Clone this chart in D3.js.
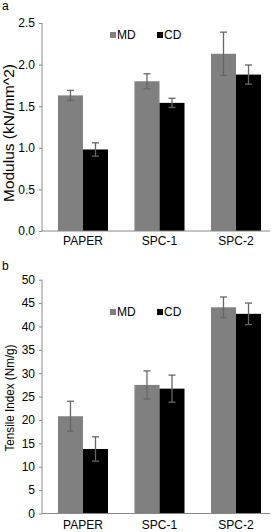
<!DOCTYPE html>
<html lang="en">
<head>
  <meta charset="UTF-8">
  <title>Modulus and Tensile Index</title>
  <script src="https://d3js.org/d3.v7.min.js"></script>
  <style>
    body { margin: 0; background: #fff; }
    svg { display: block; font-family: Arial, "Liberation Sans", sans-serif; }
  </style>
</head>
<body>
  <div id="chart"></div>
  <script>
    const categories = ["PAPER", "SPC-1", "SPC-2"];
    const series = ["MD", "CD"];

    // panel a: modulus (kN/mm^2)
    const modulusMD = [1.63, 1.80, 2.13];
    const modulusCD = [0.98, 1.54, 1.88];
    const modulusErrMD = [0.06, 0.09, 0.26];
    const modulusErrCD = [0.08, 0.055, 0.115];
    const modulusTicks = [0, 0.5, 1.0, 1.5, 2.0, 2.5];

    // panel b: tensile index (Nm/g)
    const tensileMD = [20.8, 27.5, 44.1];
    const tensileCD = [13.8, 26.7, 42.7];
    const tensileErrMD = [3.2, 3.0, 2.2];
    const tensileErrCD = [2.6, 2.9, 2.3];
    const tensileTicks = [0, 5, 10, 15, 20, 25, 30, 35, 40, 45, 50];

    const colors = { MD: "#808080", CD: "#000000" };
    const axisColor = "#888";
    const errColor = "#666";

    const width = 275, height = 532;
    const svg = d3.select("#chart").append("svg")
      .attr("width", width)
      .attr("height", height);

    function drawPanel(opt) {
      const g = svg.append("g");
      const x0 = d3.scaleBand()
        .domain(categories)
        .range([42, 270])
        .paddingInner(0.346)
        .paddingOuter(0.163)
        .align(0.64);
      const x1 = d3.scaleBand()
        .domain(series)
        .range([0, x0.bandwidth()]);
      const y = d3.scaleLinear()
        .domain([0, opt.ticks[opt.ticks.length - 1]])
        .range([opt.bottom, opt.top]);

      const rows = [];
      categories.forEach((c, i) => {
        rows.push({ cat: c, s: "MD", v: opt.md[i], e: opt.errMD[i] });
        rows.push({ cat: c, s: "CD", v: opt.cd[i], e: opt.errCD[i] });
      });

      g.selectAll("rect.bar")
        .data(rows)
        .join("rect")
        .attr("class", "bar")
        .attr("x", d => x0(d.cat) + x1(d.s))
        .attr("width", x1.bandwidth())
        .attr("y", d => y(d.v))
        .attr("height", d => y(0) - y(d.v))
        .attr("fill", d => colors[d.s]);

      // error bars
      const eb = g.selectAll("g.err")
        .data(rows)
        .join("g")
        .attr("class", "err")
        .attr("stroke", errColor)
        .attr("stroke-width", 1.3);
      const cx = d => x0(d.cat) + x1(d.s) + x1.bandwidth() / 2;
      eb.append("line")
        .attr("x1", cx).attr("x2", cx)
        .attr("y1", d => y(d.v + d.e)).attr("y2", d => y(d.v - d.e));
      eb.append("line")
        .attr("x1", d => cx(d) - 3.5).attr("x2", d => cx(d) + 3.5)
        .attr("y1", d => y(d.v + d.e)).attr("y2", d => y(d.v + d.e));
      eb.append("line")
        .attr("x1", d => cx(d) - 3.5).attr("x2", d => cx(d) + 3.5)
        .attr("y1", d => y(d.v - d.e)).attr("y2", d => y(d.v - d.e));

      // y axis
      const yAxis = g.append("g")
        .attr("transform", "translate(42,0)")
        .call(d3.axisLeft(y).tickValues(opt.ticks).tickSize(3).tickPadding(4)
          .tickFormat(opt.fmt));
      yAxis.selectAll("path, line").attr("stroke", axisColor);
      yAxis.select(".domain").attr("d", `M0,${opt.top}V${opt.bottom}`);
      yAxis.selectAll("text").attr("fill", "#000").style("font-size", "12px");

      // x axis
      const xAxis = g.append("g")
        .attr("transform", `translate(0,${opt.bottom})`)
        .call(d3.axisBottom(x0).tickSize(0).tickPadding(opt.xPad));
      xAxis.select(".domain").attr("stroke", axisColor).attr("d", "M42,0H270");
      xAxis.selectAll("text").attr("fill", "#000").style("font-size", "12px");

      // y label
      g.append("text")
        .attr("transform", `translate(14,${opt.labelY}) rotate(-90)`)
        .attr("text-anchor", "middle")
        .attr("textLength", opt.labelLen)
        .attr("lengthAdjust", "spacingAndGlyphs")
        .style("font-size", opt.labelSize + "px")
        .text(opt.label);

      // panel letter
      g.append("text")
        .attr("x", 2)
        .attr("y", opt.letterY)
        .style("font-size", "12px")
        .text(opt.letter);

      // legend
      const leg = g.selectAll("g.leg")
        .data(series)
        .join("g")
        .attr("class", "leg")
        .attr("transform", (d, i) => `translate(${110 + i * 47},${opt.legendY})`);
      leg.append("rect")
        .attr("x", 0).attr("y", -3)
        .attr("width", 6).attr("height", 6)
        .attr("fill", d => colors[d]);
      leg.append("text")
        .attr("x", 7).attr("y", 0).attr("dy", "0.36em")
        .style("font-size", "12px")
        .text(d => d);
    }

    drawPanel({
      md: modulusMD, cd: modulusCD, errMD: modulusErrMD, errCD: modulusErrCD,
      ticks: modulusTicks, fmt: d3.format(".1f"),
      top: 23, bottom: 231, xPad: 5.5,
      label: "Modulus (kN/mm^2)", labelY: 133, labelLen: 138, labelSize: 14,
      letter: "a", letterY: 10, legendY: 35
    });

    drawPanel({
      md: tensileMD, cd: tensileCD, errMD: tensileErrMD, errCD: tensileErrCD,
      ticks: tensileTicks, fmt: d3.format("d"),
      top: 279.7, bottom: 513.5, xPad: 6.5,
      label: "Tensile Index (Nm/g)", labelY: 398, labelLen: 107, labelSize: 12,
      letter: "b", letterY: 270, legendY: 312
    });
  </script>
</body>
</html>
